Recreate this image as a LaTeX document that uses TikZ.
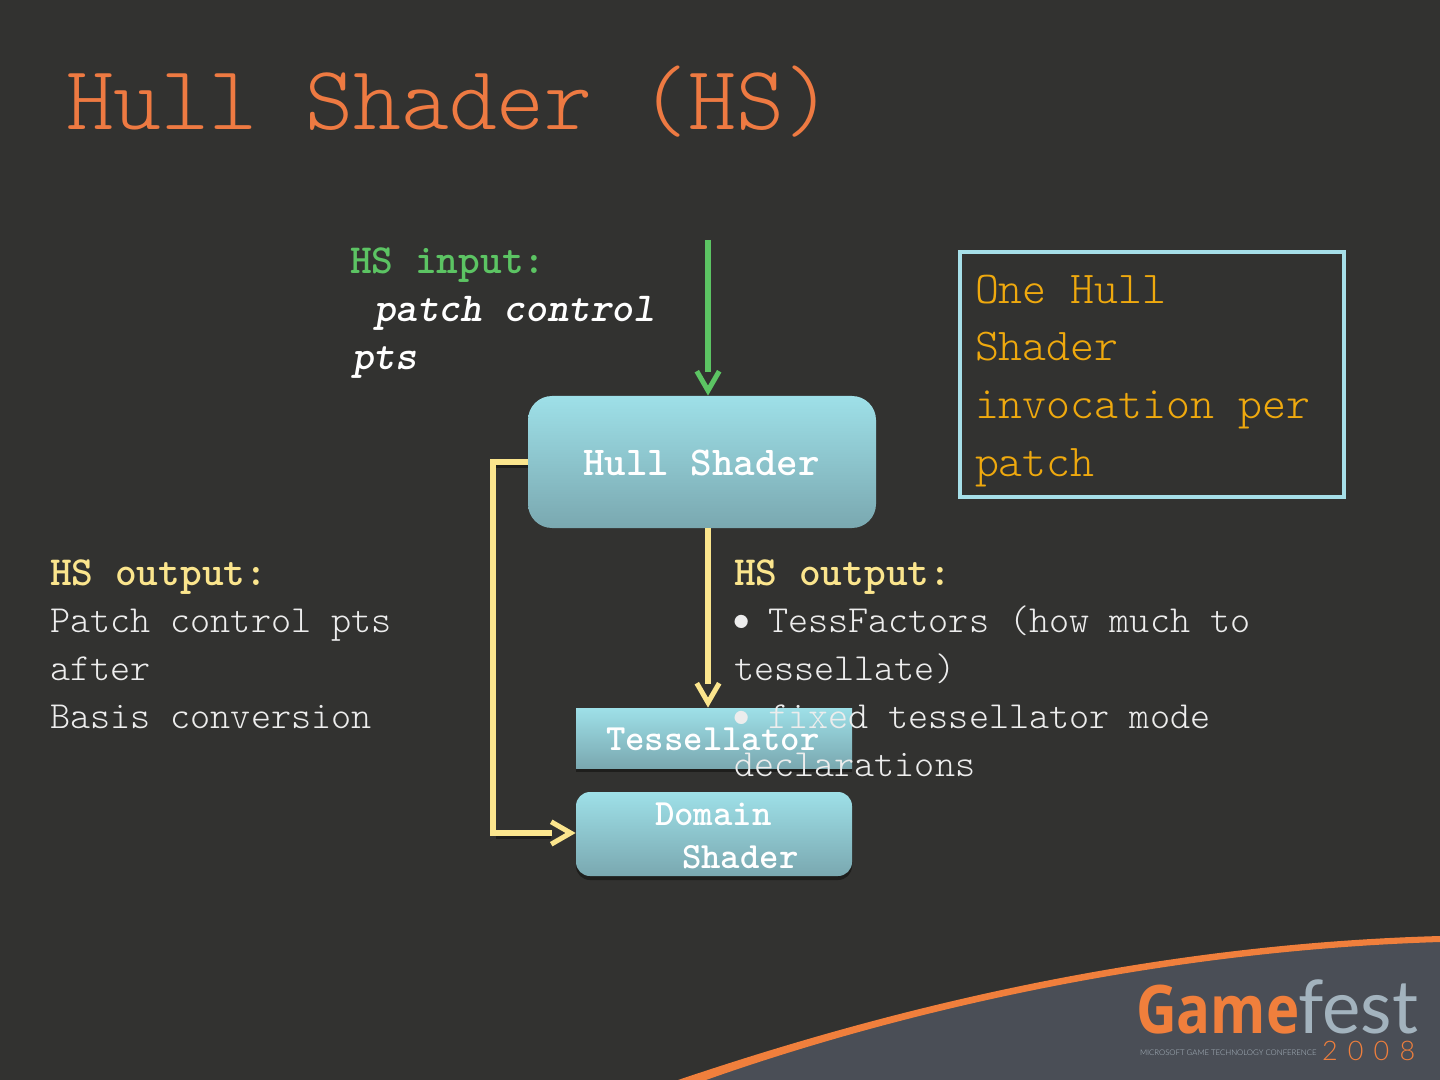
\documentclass[tikz,border=0pt]{standalone}
\usepackage{fontspec}
\usepackage{graphicx}
\usetikzlibrary{arrows.meta}
\newfontfamily\logobold{Open Sans}[UprightFont=* Bold]
\newfontfamily\logolight{Lato Light}
\newfontfamily\logoreg{Lato}
\newfontfamily\lightmono{Latin Modern Mono Light}
\definecolor{bgc}{HTML}{323230}
\definecolor{panelc}{HTML}{4A4E56}
\definecolor{orangec}{HTML}{F07F3C}
\definecolor{titlec}{HTML}{EE7A42}
\definecolor{greenc}{HTML}{5CC463}
\definecolor{yellowc}{HTML}{FBE58D}
\definecolor{framec}{HTML}{A6DFE8}
\definecolor{amberc}{HTML}{EFA90E}
\definecolor{bodyc}{HTML}{EDEDED}
\definecolor{boxtop}{HTML}{9EE0E8}
\definecolor{boxbot}{HTML}{7AA8B0}
\definecolor{festc}{HTML}{A3B3BE}
\definecolor{shadec}{HTML}{1E1E1C}
\newcommand{\sz}[1]{\fontsize{#1pt}{#1pt}\selectfont}
\newcommand{\bul}{\makebox[17pt][l]{\hspace{-3pt}\raisebox{-0.6pt}{\sz{25}•}}}
\pgfdeclarearrow{
  name=GapBarb,
  setup code={
    \pgfarrowssettipend{0pt}
    \pgfarrowssetbackend{-12pt}
    \pgfarrowssetlineend{-12pt}
    \pgfarrowshullpoint{0pt}{0pt}
    \pgfarrowshullpoint{-12pt}{6pt}
    \pgfarrowshullpoint{-12pt}{-6pt}
  },
  drawing code={
    \pgfsetlinewidth{2.5pt}\pgfsetmiterjoin\pgfsetbuttcap
    \pgfpathmoveto{\pgfqpoint{-12.4pt}{5.6pt}}
    \pgfpathlineto{\pgfqpoint{-2.7pt}{0pt}}
    \pgfpathlineto{\pgfqpoint{-12.4pt}{-5.6pt}}
    \pgfusepathqstroke
  },
  defaults={}
}
\tikzset{
  x=0.5pt,y=-0.5pt,
  txt/.style={anchor=base west,inner sep=0pt,outer sep=0pt},
  titletxt/.style={txt,text=titlec,font=\lightmono\sz{45.6}},
  headtxt/.style={txt,font=\ttfamily\bfseries\sz{20.7}},
  inputhead/.style={headtxt,text=greenc},
  outhead/.style={headtxt,text=yellowc},
  inputtxt/.style={txt,text=white,font=\ttfamily\bfseries\itshape\sz{20.6}},
  bodytxt/.style={txt,text=bodyc,font=\lightmono\sz{19.15}},
  notetxt/.style={txt,text=amberc,font=\lightmono\sz{22.8}},
  boxlabel/.style={txt,text=white,font=\ttfamily\bfseries\sz{18.5}},
  grad/.style={top color=boxtop,bottom color=boxbot,draw=none,inner sep=0pt,outer sep=0pt},
  stem/.style={line width=3pt,-{GapBarb}},
  shade line/.style={line width=3pt,shadec},
}
\begin{document}
\begin{tikzpicture}
\useasboundingbox (0,0) rectangle (1440,1080);
\fill[bgc] (0,0) rectangle (1440,1080);
% footer swoosh
\fill[panelc] (680,1080) .. controls (850,1025) and (1120,950) .. (1440,938) -- (1440,1080) -- cycle;
\fill[orangec] (678,1080) .. controls (850,1022) and (1120,945) .. (1440,936)
  -- (1440,942) .. controls (1120,952) and (850,1029) .. (706,1080) -- cycle;
% logo
\node[txt,text=orangec,font=\logobold\sz{33.5}] (game) at (1136,1033) {\scalebox{0.84}[1]{Game}};
\node[txt,text=festc,font=\logoreg\sz{37}] (fest) at (1298,1033) {\scalebox{0.98}[1]{fest}};
\node[txt,text=festc!85!white,font=\logolight\sz{3.9}] (conf) at (1140,1055) {MICROSOFT GAME TECHNOLOGY CONFERENCE};
\node[txt,text=orangec,font=\logolight\sz{13.5}] (year) at (1322,1060) {2\hspace{5.1pt}0\hspace{5.1pt}0\hspace{5.1pt}8};
% title
\node[titletxt] (title) at (66,130) {Hull Shader (HS)};
% shadows
\fill[shadec] (576,712) rectangle (852,772);
\fill[shadec,rounded corners=7pt] (576,796) rectangle (852,880);
% boxes
\node[grad,rounded corners=12pt,minimum width=174pt,minimum height=66pt,anchor=north west] (hull) at (528,396) {};
\node[grad,minimum width=138pt,minimum height=30pt,anchor=north west] (tess) at (576,708) {};
\node[grad,rounded corners=7pt,minimum width=138pt,minimum height=42pt,anchor=north west] (domain) at (576,792) {};
\node[txt,text=white,font=\ttfamily\bfseries\sz{20.5}] (hulltxt) at (583,475) {Hull Shader};
\node[boxlabel] (tesstxt) at (606,750) {Tessellator};
\node[boxlabel] (domtxt1) at (655,825) {Domain};
\node[boxlabel] (domtxt2) at (682,868) {Shader};
% connectors
\coordinate (instart) at (708,240);
\coordinate (hulltop) at (708,396);
\coordinate (hullbot) at (708,528);
\coordinate (tesstop) at (708,708);
\coordinate (hullleft) at (528,462);
\coordinate (domleft) at (576,833);
\draw[stem,greenc] (instart) -- (hulltop);
\draw[stem,yellowc] (hullbot) -- (tesstop);
\draw[shade line] (528,465) -- (496,465);
\draw[shade line] (496,836) -- (551,836);
\draw[stem,yellowc,line join=miter] (hullleft) -- (493,462) -- (493,833) -- (domleft);
% input label
\node[inputhead] (in1) at (350,274) {HS input:};
\node[inputtxt] (in2) at (374,322) {patch control};
\node[inputtxt] (in3) at (352,370) {pts};
% left output
\node[outhead] (lo1) at (50,585) {HS output:};
\node[bodytxt] (lo2) at (50,632) {Patch control pts};
\node[bodytxt] (lo3) at (50,680) {after};
\node[bodytxt] (lo4) at (50,728) {Basis conversion};
% right output
\node[outhead] (ro1) at (734,585) {HS output:};
\node[bodytxt] (ro2) at (734,632) {\bul{}TessFactors (how much to};
\node[bodytxt] (ro3) at (734,680) {tessellate)};
\node[bodytxt] (ro4) at (734,728) {\bul{}fixed tessellator mode};
\node[bodytxt] (ro5) at (734,776) {declarations};
% note
\node[draw=framec,line width=2pt,minimum width=192pt,minimum height=122.5pt,inner sep=0pt,outer sep=0pt] (note) at (1152,374.5) {};
\node[notetxt] (n1) at (975,304) {One Hull};
\node[notetxt] (n2) at (975,361) {Shader};
\node[notetxt] (n3) at (975,419) {invocation per};
\node[notetxt] (n4) at (975,476) {patch};
\end{tikzpicture}
\end{document}
